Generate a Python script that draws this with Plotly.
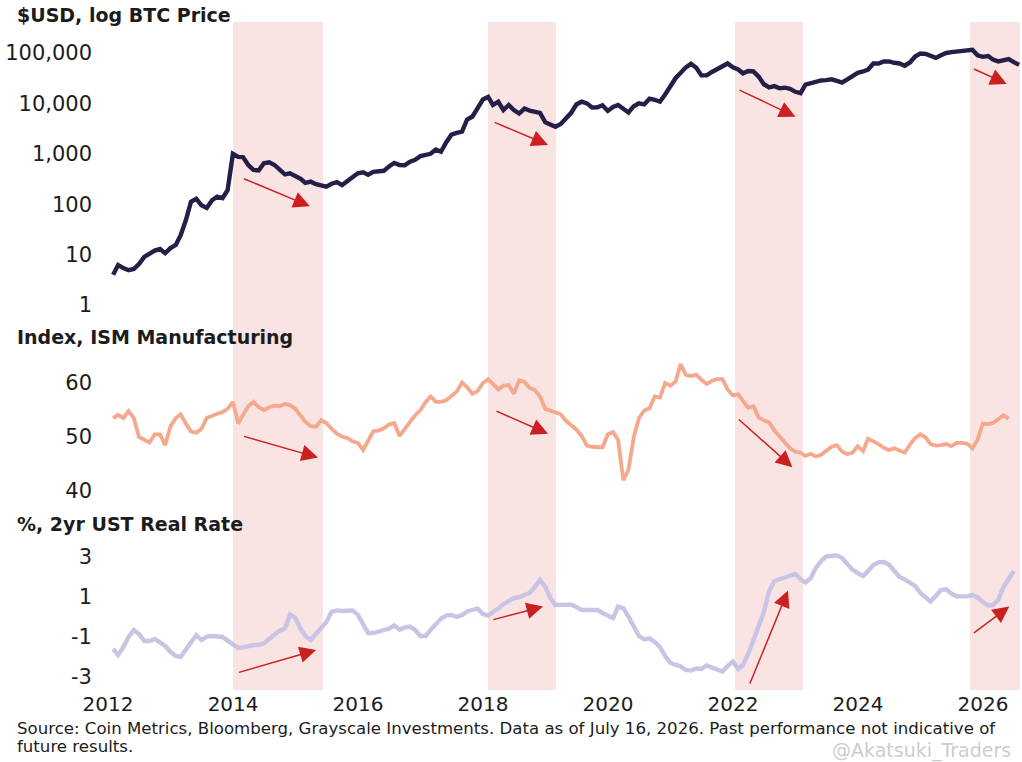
import numpy as np
import pandas as pd
import plotly.graph_objects as go

# monthly series, first point = end of Jan 2012
btc = [
    4.0, 6.2, 5.4, 4.9, 5.2, 6.5, 9.0, 10.7, 12.0, 12.9, 10.7, 13.5,
    15.5, 24, 48, 112, 128, 95, 84, 120, 141, 132, 190, 1000,
    870, 860, 600, 480, 470, 650, 680, 600, 470, 390, 410, 360,
    320, 265, 280, 250, 240, 222, 255, 275, 240, 290, 350, 410,
    430, 385, 440, 440, 460, 560, 660, 600, 590, 700, 760, 900,
    960, 1000, 1220, 1100, 1700, 2400, 2600, 2750, 4800, 5500, 8000, 12000,
    13500, 9300, 10800, 7400, 9300, 7400, 6300, 7900, 7200, 6800, 6500, 4200,
    3700, 3450, 3900, 5000, 6500, 9500, 10800, 10000, 8300, 8400, 9200, 7100,
    8500, 9300, 8000, 6600, 8800, 10000, 9600, 12400, 11800, 10800, 15000, 22000,
    32000, 40000, 52000, 61000, 51000, 36000, 36000, 42000, 47000, 55000, 62000, 52000,
    47000, 39500, 44000, 43000, 34000, 24000, 20800, 22000, 19900, 20500, 19500, 17000,
    16000, 23500, 25000, 27500, 28500, 29000, 30000, 28000, 26000, 30000, 35000, 40500,
    43000, 47000, 62000, 62000, 68000, 68000, 64000, 62000, 56000, 65000, 85000, 98000,
    96000, 88000, 80000, 90000, 100000, 104000, 107000, 110000, 114000, 116000, 90000, 84000,
    87000, 74000, 68000, 72000, 76000, 66000, 58000,
]

ism = [
    53.5, 54.1, 53.5, 54.8, 53.5, 50.0, 49.5, 49.0, 50.5, 50.5, 48.5, 52.0,
    53.5, 54.2, 52.5, 51.0, 50.8, 51.5, 53.5, 54.0, 54.3, 54.6, 55.2, 56.5,
    52.5, 54.1, 55.7, 56.5, 55.5, 55.0, 55.5, 55.8, 55.7, 56.1, 55.9, 55.2,
    54.0, 52.8, 52.0, 51.9, 53.1, 52.6, 51.5, 50.6, 50.1, 49.8, 49.2, 48.9,
    47.6, 49.3, 51.1, 51.2, 51.6, 52.3, 52.6, 50.2, 51.6, 52.8, 54.0, 55.0,
    56.5, 57.5, 56.5, 56.5, 56.8, 57.5, 58.4, 60.1, 59.2, 58.0, 58.5, 60.0,
    60.7, 59.8, 58.8, 59.5, 59.6, 58.0, 60.5, 60.2, 59.1, 58.7, 57.5, 55.2,
    54.8, 54.6, 54.2, 53.0, 52.1, 51.4, 50.2, 48.4, 48.2, 48.2, 48.1, 50.5,
    50.9, 49.5, 42.0, 44.0, 50.0, 53.5, 54.9, 55.3, 57.5, 57.3, 60.0, 59.5,
    60.3, 63.5, 61.5, 61.3, 61.5, 60.6, 59.8, 60.4, 60.7, 60.7, 58.8, 57.7,
    57.9, 56.7, 55.4, 55.7, 53.6, 53.1, 52.7, 51.2, 50.0, 49.0, 47.9, 47.3,
    47.1, 46.5, 46.9, 46.4, 46.7, 47.4, 48.2, 48.5, 47.3, 46.8, 47.1, 48.3,
    47.4, 49.7, 49.2, 48.7, 48.0, 47.6, 47.9, 47.5, 47.1, 48.6, 49.8, 50.5,
    49.9, 48.7, 48.4, 48.5, 48.7, 48.3, 48.9, 48.9, 48.8, 47.9, 49.5, 52.5,
    52.4, 52.6, 53.3, 54.0, 53.4,
]

real_rate = [
    -1.6, -1.9, -1.5, -1.0, -0.65, -0.85, -1.2, -1.2, -1.1, -1.28, -1.45, -1.75,
    -1.95, -2.0, -1.6, -1.3, -0.9, -1.15, -0.98, -0.95, -0.95, -1.0, -1.18, -1.38,
    -1.55, -1.52, -1.45, -1.4, -1.4, -1.32, -1.1, -0.85, -0.68, -0.58, 0.12, -0.05,
    -0.6, -0.95, -1.15, -0.85, -0.58, -0.25, 0.27, 0.33, 0.3, 0.3, 0.33, 0.12,
    -0.35, -0.8, -0.8, -0.7, -0.65, -0.58, -0.42, -0.63, -0.52, -0.48, -0.65, -0.95,
    -0.95, -0.65, -0.35, -0.08, 0.08, 0.1, 0.0, 0.1, 0.28, 0.36, 0.43, 0.15,
    0.07, 0.25, 0.42, 0.65, 0.8, 0.95, 1.0, 1.1, 1.2, 1.5, 1.85, 1.5,
    0.92, 0.6, 0.6, 0.65, 0.62, 0.5, 0.35, 0.35, 0.37, 0.35, 0.2, 0.05,
    -0.05, 0.52, 0.43, 0.02, -0.5, -0.95, -1.12, -1.07, -1.25, -1.5, -1.95, -2.3,
    -2.4, -2.46, -2.65, -2.68, -2.57, -2.6, -2.42, -2.52, -2.63, -2.73, -2.45, -2.22,
    -2.6, -2.4, -1.85, -1.1, -0.45, 0.25, 1.3, 1.8, 1.9, 1.98, 2.08, 2.15,
    1.88, 1.72, 1.95, 2.45, 2.8, 3.03, 3.05, 3.08, 2.95, 2.65, 2.37, 2.2,
    2.05, 2.3, 2.6, 2.73, 2.75, 2.62, 2.33, 2.0, 1.88, 1.72, 1.55, 1.2,
    0.95, 0.78, 1.05, 1.35, 1.38, 1.17, 1.04, 1.02, 1.03, 1.1, 0.98, 0.75,
    0.58, 0.6, 0.85, 1.5, 1.95, 2.3,
]

# shaded periods (decimal years)
bands = [(2014.0, 2015.44), (2018.08, 2019.17), (2022.03, 2023.12), (2025.79, 2026.6)]

# arrows: (tail_x, tail_y, head_x, head_y)
btc_arrows = [(2014.15, 330, 2015.23, 91), (2018.16, 4330, 2019.04, 1500),
              (2022.08, 19000, 2023.0, 5450), (2025.83, 49700, 2026.38, 24300)]
ism_arrows = [(2014.15, 50.2, 2015.36, 46.2), (2018.19, 54.9, 2019.04, 50.6),
              (2022.07, 53.5, 2022.95, 44.4)]
rate_arrows = [(2014.07, -2.79, 2015.33, -1.65), (2018.14, -0.15, 2018.96, 0.52),
               (2022.26, -3.4, 2022.88, 1.32), (2025.83, -0.85, 2026.42, 0.52)]

years = list(range(2012, 2027, 2))
btc_ticks = [1, 10, 100, 1000, 10000, 100000]
btc_ticktext = ['1', '10', '100', '1,000', '10,000', '100,000']
ism_ticks = [40, 50, 60]
rate_ticks = [-3, -1, 1, 3]


def month_ends(n):
    return pd.date_range('2012-02-01', periods=n, freq='MS') - pd.Timedelta(days=1)


def yr(d):
    y = int(d)
    start = pd.Timestamp(year=y, month=1, day=1)
    end = pd.Timestamp(year=y + 1, month=1, day=1)
    return start + (end - start) * (d - y)


FONT = 'DejaVu Sans'
INK = '#1c1c1c'
ARROW = '#cc2020'

fig = go.Figure()
fig.add_trace(go.Scatter(x=month_ends(len(btc)), y=btc, mode='lines',
                         line=dict(color='#251f47', width=4.4), yaxis='y'))
fig.add_trace(go.Scatter(x=month_ends(len(ism)), y=ism, mode='lines',
                         line=dict(color='#f6a88d', width=3.8), yaxis='y2'))
fig.add_trace(go.Scatter(x=month_ends(len(real_rate)), y=real_rate, mode='lines',
                         line=dict(color='#c9c4e4', width=4.4), yaxis='y3'))

for x0, x1 in bands:
    fig.add_shape(type='rect', xref='x', yref='paper', x0=yr(x0), x1=yr(x1),
                  y0=0, y1=1, fillcolor='#fae3e3', line_width=0, layer='below')

ann = []


def add_arrows(arrows, yref, log=False):
    for tx, ty, hx, hy in arrows:
        f = np.log10 if log else (lambda v: v)
        ann.append(dict(x=yr(hx), y=f(hy), ax=yr(tx), ay=f(ty), xref='x', yref=yref,
                        axref='x', ayref=yref, text='', showarrow=True, arrowhead=2,
                        arrowsize=2.2, arrowwidth=1.5, arrowcolor=ARROW, standoff=0))


add_arrows(btc_arrows, 'y', log=True)
add_arrows(ism_arrows, 'y2')
add_arrows(rate_arrows, 'y3')

W, H = 1022, 762
L, T = 105, 22
PW, PH = 915, 668


# helpers take positions in page pixels
def px(x):
    return (x - L) / PW


def py(y):
    return (T + PH - y) / PH


for text, y in [('$USD, log BTC Price', 15), ('Index, ISM Manufacturing', 337),
                ('%, 2yr UST Real Rate', 524)]:
    ann.append(dict(text='<b>' + text + '</b>', x=px(15), y=py(y), xref='paper', yref='paper',
                    xanchor='left', yanchor='middle', showarrow=False,
                    font=dict(family=FONT, size=19, color=INK)))

for text, y in [('Source: Coin Metrics, Bloomberg, Grayscale Investments. Data as of July 16, 2026. '
                 'Past performance not indicative of', 728), ('future results.', 746)]:
    ann.append(dict(text=text, x=px(15), y=py(y), xref='paper', yref='paper',
                    xanchor='left', yanchor='middle', showarrow=False,
                    font=dict(family=FONT, size=16.6, color=INK)))

ann.append(dict(text='@Akatsuki_Traders', x=px(1013), y=py(750), xref='paper', yref='paper',
                xanchor='right', yanchor='middle', showarrow=False,
                font=dict(family=FONT, size=19, color='rgba(160,160,160,0.55)')))

axis_common = dict(showgrid=False, zeroline=False, showline=False, ticks='',
                   tickfont=dict(family=FONT, size=21, color=INK), ticklabelstandoff=12)

fig.update_layout(
    width=W, height=H,
    margin=dict(l=L, r=W - L - PW, t=T, b=H - T - PH),
    paper_bgcolor='white', plot_bgcolor='white',
    showlegend=False,
    font=dict(family=FONT, color=INK),
    xaxis=dict(domain=[0, 1], anchor='y3', range=[yr(2011.952), yr(2026.592)],
               tickvals=[pd.Timestamp(year=y, month=1, day=1) for y in years],
               ticktext=[str(y) for y in years],
               showgrid=False, zeroline=False, showline=False, ticks='',
               tickfont=dict(family=FONT, size=20, color=INK)),
    yaxis=dict(type='log', domain=[py(315), 1], range=[-0.198, 5.615], anchor='x',
               tickvals=btc_ticks, ticktext=btc_ticktext, **axis_common),
    yaxis2=dict(domain=[py(497), py(350)], range=[38.9, 66.1], anchor='x',
                tickvals=ism_ticks, ticktext=[str(v) for v in ism_ticks], **axis_common),
    yaxis3=dict(domain=[0, py(545)], range=[-3.65, 3.6], anchor='x',
                tickvals=rate_ticks, ticktext=[str(v) for v in rate_ticks], **axis_common),
    annotations=ann,
)

# drop the default body margin so the figure sits at the page corner
fig.write_html('out.html', config={'displayModeBar': False},
               post_script="document.body.style.margin='0';")
